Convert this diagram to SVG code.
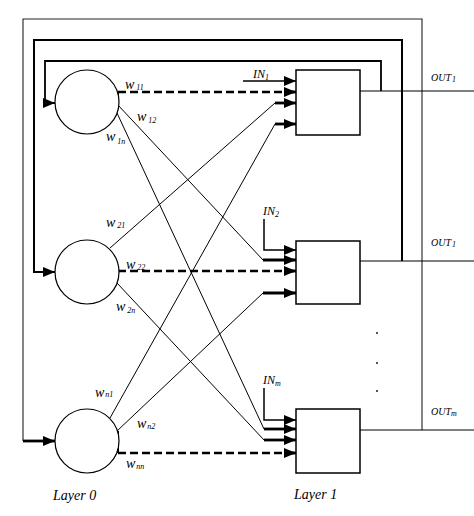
<svg xmlns="http://www.w3.org/2000/svg" width="474" height="516" viewBox="0 0 474 516">
<style>
  .node{fill:#fff;stroke:#000;stroke-width:1.2}
  .box{fill:#fff;stroke:#000;stroke-width:1.5}
  .thin{fill:none;stroke:#000;stroke-width:1}
  .in{fill:none;stroke:#000;stroke-width:1.5}
  .thick{fill:none;stroke:#000;stroke-width:2.8}
  .dash{fill:none;stroke:#000;stroke-width:2.5;stroke-dasharray:8 4}
  .loop1{fill:none;stroke:#000;stroke-width:1.8}
  .loop2{fill:none;stroke:#000;stroke-width:2}
  .loop3{fill:none;stroke:#222;stroke-width:1.1}
  text{font-family:"Liberation Serif","Times New Roman",serif;font-style:italic;fill:#000}
  .w{font-size:14px}
  .s{font-size:8px}
  .out{font-size:10px}
  .inl{font-size:12px}
  .lay{font-size:14px}
</style>
<defs>
  <marker id="arr" viewBox="0 0 12 10" refX="12" refY="5" markerWidth="12" markerHeight="10" markerUnits="userSpaceOnUse" orient="auto">
    <path d="M0,0 L12,5 L0,10 z" fill="#000"/>
  </marker>
</defs>

<g id="connectors">
  <!-- feedback loops -->
  <path class="loop1" d="M381,91 V61 H45 V103 H55" marker-end="url(#arr)"/>
  <path class="loop2" d="M402,261 V40 H34 V272 H55" marker-end="url(#arr)"/>
  <path class="loop3" d="M422,430 V19 H23 V441"/>
  <path class="thick" d="M23,441 H55" marker-end="url(#arr)"/>
  <!-- outputs -->
  <path class="thin" d="M360,91 H474"/>
  <path class="thin" d="M360,261 H474"/>
  <path class="thin" d="M360,430 H474"/>
  <!-- circle stubs -->
  <path class="loop2" d="M118,92 V104"/>
  <path class="loop2" d="M118,431 V453"/>
  <!-- box 1 inputs -->
  <path class="in" d="M243,81 H296" marker-end="url(#arr)"/>
  <path class="dash" d="M118,92 H296"/>
  <path class="thick" d="M284,92 H296" marker-end="url(#arr)"/>
  <path class="thin" d="M110,248 L275,103"/>
  <path class="thick" d="M275,103 H296" marker-end="url(#arr)"/>
  <path class="thin" d="M110,418 L275,124"/>
  <path class="thick" d="M275,124 H296" marker-end="url(#arr)"/>
  <!-- box 2 inputs -->
  <path class="in" d="M264,219 V250 H296" marker-end="url(#arr)"/>
  <path class="thin" d="M117,104 L263,260"/>
  <path class="thick" d="M263,260 H296" marker-end="url(#arr)"/>
  <path class="dash" d="M118,271 H296"/>
  <path class="thick" d="M284,271 H296" marker-end="url(#arr)"/>
  <path class="thin" d="M117,431 L263,293"/>
  <path class="thick" d="M263,293 H296" marker-end="url(#arr)"/>
  <!-- box 3 inputs -->
  <path class="in" d="M264,388 V420 H296" marker-end="url(#arr)"/>
  <path class="thin" d="M117,113 L264,429"/>
  <path class="thick" d="M264,429 H296" marker-end="url(#arr)"/>
  <path class="thin" d="M117,283 L264,440"/>
  <path class="thick" d="M264,440 H296" marker-end="url(#arr)"/>
  <path class="dash" d="M118,453 H296"/>
  <path class="thick" d="M284,453 H296" marker-end="url(#arr)"/>
</g>

<g id="n0-1"><circle class="node" cx="87" cy="102" r="32"/></g>
<g id="n0-2"><circle class="node" cx="87" cy="272" r="32"/></g>
<g id="n0-3"><circle class="node" cx="87" cy="441" r="32"/></g>
<g id="n1-1"><rect class="box" x="296" y="70" width="64" height="65"/></g>
<g id="n1-2"><rect class="box" x="296" y="241" width="64" height="63"/></g>
<g id="n1-3"><rect class="box" x="296" y="409" width="64" height="64"/></g>

<g id="dots" fill="#000">
  <circle cx="377" cy="333" r="0.9"/>
  <circle cx="377" cy="363" r="0.9"/>
  <circle cx="377" cy="391" r="0.9"/>
</g>

<g id="labels">
  <text class="w" x="125" y="89">w<tspan class="s" dx="2" dy="1">11</tspan></text>
  <text class="w" x="137" y="121">w<tspan class="s" dx="2" dy="2">12</tspan></text>
  <text class="w" x="106" y="141">w<tspan class="s" dx="2" dy="3">1n</tspan></text>
  <text class="w" x="106" y="227">w<tspan class="s" dx="2" dy="1">21</tspan></text>
  <text class="w" x="126" y="269">w<tspan class="s" dx="2" dy="1">22</tspan></text>
  <text class="w" x="116" y="311">w<tspan class="s" dx="2" dy="2">2n</tspan></text>
  <text class="w" x="95" y="397">w<tspan class="s" dx="1" dy="0">n1</tspan></text>
  <text class="w" x="137" y="428">w<tspan class="s" dx="1" dy="1">n2</tspan></text>
  <text class="w" x="126" y="468">w<tspan class="s" dx="1" dy="1">nn</tspan></text>

  <text class="inl" x="253" y="78">IN<tspan class="s" dy="2">1</tspan></text>
  <text class="inl" x="263" y="215">IN<tspan class="s" dy="2">2</tspan></text>
  <text class="inl" x="263" y="384">IN<tspan class="s" dy="2">m</tspan></text>

  <text class="out" x="431" y="81">OUT<tspan class="s" dx="1" dy="1">1</tspan></text>
  <text class="out" x="431" y="246">OUT<tspan class="s" dx="1" dy="1">1</tspan></text>
  <text class="out" x="431" y="415">OUT<tspan class="s" dx="0" dy="1">m</tspan></text>

  <text class="lay" x="53" y="500">Layer 0</text>
  <text class="lay" x="294" y="499">Layer 1</text>
</g>
</svg>
